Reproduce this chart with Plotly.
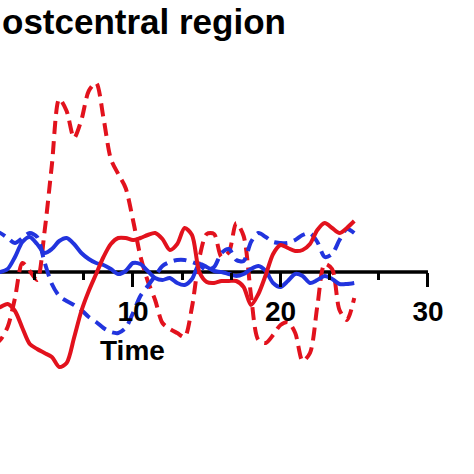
import plotly.graph_objects as go

time = [0.5, 1.0, 1.5, 2.0, 2.5, 3.0, 3.5, 4.0, 4.5, 5.0, 5.5, 6.0, 6.5, 7.0, 7.5, 8.0,
        8.5, 9.0, 9.5, 10.0, 10.5, 11.0, 11.5, 12.0, 12.5, 13.0, 13.5, 14.0, 14.5, 15.0,
        15.5, 16.0, 16.5, 17.0, 17.5, 18.0, 18.5, 19.0, 19.5, 20.0, 20.5, 21.0, 21.5, 22.0,
        22.5, 23.0, 23.5, 24.0, 24.5, 25.0]

red_dashed = [-1.46, -1.36, -1.10, -0.52, 0.18, 0.02, -0.16, 0.80, 2.14, 3.46, 3.22, 2.68, 3.04, 3.62,
              3.78, 3.08, 2.26, 1.96, 1.68, 1.04, 0.32, -0.18, -0.56, -1.02, -1.14, -1.22, -1.30,
              -0.70, 0.28, 0.76, 0.76, 0.30, 0.40, 0.98, 0.72, -0.46, -1.36, -1.42, -1.26, -1.06,
              -1.00, -1.22, -1.78, -1.62, -0.68, 0.16, 0.06, -0.76, -0.96, -0.52]

red_solid = [-0.74, -0.70, -0.64, -0.78, -1.12, -1.44, -1.54, -1.62, -1.70, -1.90, -1.82, -1.32,
             -0.78, -0.38, -0.04, 0.30, 0.56, 0.68, 0.68, 0.64, 0.68, 0.74, 0.78, 0.66, 0.44,
             0.56, 0.88, 0.74, 0.00, -0.20, -0.22, -0.18, -0.18, -0.18, -0.30, -0.66, -0.44,
             -0.06, 0.36, 0.54, 0.48, 0.42, 0.44, 0.56, 0.84, 0.98, 0.88, 0.78, 0.88, 1.02]

blue_solid = [-0.02, 0.00, 0.06, 0.30, 0.60, 0.70, 0.56, 0.38, 0.46, 0.62, 0.68, 0.56, 0.38, 0.26,
              0.18, 0.14, 0.06, -0.04, 0.02, 0.18, 0.16, 0.02, -0.12, -0.16, -0.12, -0.22, -0.26,
              -0.14, 0.16, 0.10, 0.02, 0.00, -0.04, -0.08, -0.04, 0.06, 0.12, 0.02, -0.22, -0.30,
              -0.18, -0.04, -0.08, -0.22, -0.16, -0.08, -0.14, -0.24, -0.24, -0.22]

blue_dashed = [0.80, 0.78, 0.68, 0.58, 0.68, 0.78, 0.70, 0.20, -0.24, -0.48, -0.58, -0.66, -0.76,
               -0.90, -1.00, -1.12, -1.20, -1.22, -1.12, -0.82, -0.48, -0.28, -0.08, 0.12, 0.20,
               0.24, 0.24, 0.20, 0.14, 0.04, 0.10, 0.38, 0.46, 0.24, 0.22, 0.60, 0.78, 0.70, 0.60,
               0.58, 0.58, 0.64, 0.74, 0.78, 0.60, 0.30, 0.36, 0.64, 0.86, 0.78]

x_ticks = [0, 10, 20, 30]
x_tick_labels = ["0", "10", "20", "30"]

RED = "#E2121D"
BLUE = "#2234DE"

fig = go.Figure()
series = [
    ("Red dashed", red_dashed, RED, "dash"),
    ("Blue dashed", blue_dashed, BLUE, "dash"),
    ("Blue solid", blue_solid, BLUE, "solid"),
    ("Red solid", red_solid, RED, "solid"),
]
for name, vals, col, dash in series:
    fig.add_trace(go.Scatter(
        x=time, y=vals, mode="lines", name=name,
        line=dict(color=col, width=4, dash="13px,7px" if dash == "dash" else "solid",
                  shape="spline", smoothing=0.8),
        showlegend=False, hoverinfo="skip"))

# x-axis baseline from 0 to 30 at y = 0
fig.add_shape(type="line", xref="x", yref="y", x0=x_ticks[0], x1=x_ticks[-1], y0=0, y1=0,
              line=dict(color="black", width=3.5), layer="below")

ymin, ymax = -4.04, 5.44
fig.update_layout(
    width=474, height=474,
    margin=dict(l=0, r=0, t=0, b=0),
    paper_bgcolor="white", plot_bgcolor="white",
    xaxis=dict(range=[0.983, 33.12], anchor="free", position=(0 - ymin) / (ymax - ymin),
               showline=False, showgrid=False, zeroline=False,
               tickmode="array", tickvals=x_ticks, ticktext=x_tick_labels,
               ticks="outside", ticklen=14, tickwidth=3, tickcolor="black",
               minor=dict(tickmode="linear", tick0=0, dtick=10 / 3, ticks="outside",
                          ticklen=7, tickwidth=3, tickcolor="black", showgrid=False),
               tickfont=dict(family="Liberation Sans, Arial", size=28, color="black",
                             weight="bold")),
    yaxis=dict(range=[ymin, ymax], visible=False),
    annotations=[
        dict(text="Time", x=10, y=-1.56, xref="x", yref="y", showarrow=False,
             font=dict(family="Liberation Sans, Arial", size=28, color="black", weight="bold"),
             xanchor="center", yanchor="middle"),
        dict(text="ostcentral region", x=0.0, y=1.0, xref="paper", yref="paper",
             showarrow=False, xanchor="left", yanchor="top",
             font=dict(family="Liberation Sans, Arial", size=35, color="black", weight="bold")),
    ],
)

fig.write_html("out.html", config={"displayModeBar": False},
               post_script="document.body.style.margin='0';document.body.style.overflow='hidden';")
